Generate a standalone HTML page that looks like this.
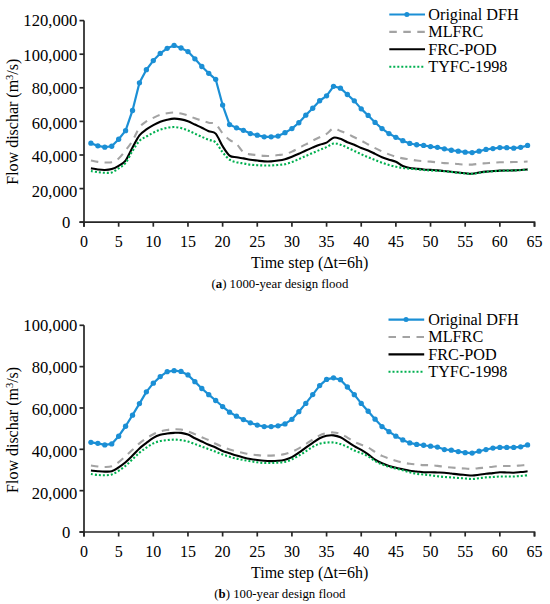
<!DOCTYPE html>
<html><head><meta charset="utf-8"><style>
html,body{margin:0;padding:0;background:#fff;width:550px;height:604px;overflow:hidden}
svg{display:block}
</style></head><body>
<svg width="550" height="604" viewBox="0 0 550 604">
<rect width="550" height="604" fill="#fff"/>
<path d="M90.93,143.16 L97.86,145.86 L104.79,147.15 L111.72,146.26 L118.65,139.26 L125.58,130.64 L132.52,110.48 L139.45,82.83 L146.38,69.72 L153.31,60.58 L160.24,53.41 L167.17,48.32 L174.10,45.41 L181.03,48.00 L187.96,51.61 L194.89,58.80 L201.82,66.51 L208.75,73.32 L215.68,79.32 L222.62,105.04 L229.55,124.56 L236.48,127.87 L243.41,130.35 L250.34,133.56 L257.27,135.16 L264.20,136.86 L271.13,136.86 L278.06,136.07 L284.99,132.71 L291.92,128.62 L298.85,122.76 L305.78,115.15 L312.72,108.25 L319.65,100.75 L326.58,95.85 L333.51,86.29 L340.44,88.14 L347.37,94.52 L354.30,100.85 L361.23,108.85 L368.16,115.45 L375.09,122.46 L382.02,128.56 L388.95,133.56 L395.88,137.36 L402.82,140.67 L409.75,143.46 L416.68,144.77 L423.61,145.42 L430.54,146.60 L437.47,147.37 L444.40,148.87 L451.33,150.26 L458.26,151.17 L465.19,152.16 L472.12,152.56 L479.05,151.17 L485.98,149.46 L492.92,148.57 L499.85,147.61 L506.78,147.68 L513.71,148.16 L520.64,147.37 L527.57,145.47" fill="none" stroke="#1b8fd5" stroke-width="2.2" stroke-linejoin="round"/>
<circle cx="90.93" cy="143.16" r="2.65" fill="#1b8fd5"/>
<circle cx="97.86" cy="145.86" r="2.65" fill="#1b8fd5"/>
<circle cx="104.79" cy="147.15" r="2.65" fill="#1b8fd5"/>
<circle cx="111.72" cy="146.26" r="2.65" fill="#1b8fd5"/>
<circle cx="118.65" cy="139.26" r="2.65" fill="#1b8fd5"/>
<circle cx="125.58" cy="130.64" r="2.65" fill="#1b8fd5"/>
<circle cx="132.52" cy="110.48" r="2.65" fill="#1b8fd5"/>
<circle cx="139.45" cy="82.83" r="2.65" fill="#1b8fd5"/>
<circle cx="146.38" cy="69.72" r="2.65" fill="#1b8fd5"/>
<circle cx="153.31" cy="60.58" r="2.65" fill="#1b8fd5"/>
<circle cx="160.24" cy="53.41" r="2.65" fill="#1b8fd5"/>
<circle cx="167.17" cy="48.32" r="2.65" fill="#1b8fd5"/>
<circle cx="174.10" cy="45.41" r="2.65" fill="#1b8fd5"/>
<circle cx="181.03" cy="48.00" r="2.65" fill="#1b8fd5"/>
<circle cx="187.96" cy="51.61" r="2.65" fill="#1b8fd5"/>
<circle cx="194.89" cy="58.80" r="2.65" fill="#1b8fd5"/>
<circle cx="201.82" cy="66.51" r="2.65" fill="#1b8fd5"/>
<circle cx="208.75" cy="73.32" r="2.65" fill="#1b8fd5"/>
<circle cx="215.68" cy="79.32" r="2.65" fill="#1b8fd5"/>
<circle cx="222.62" cy="105.04" r="2.65" fill="#1b8fd5"/>
<circle cx="229.55" cy="124.56" r="2.65" fill="#1b8fd5"/>
<circle cx="236.48" cy="127.87" r="2.65" fill="#1b8fd5"/>
<circle cx="243.41" cy="130.35" r="2.65" fill="#1b8fd5"/>
<circle cx="250.34" cy="133.56" r="2.65" fill="#1b8fd5"/>
<circle cx="257.27" cy="135.16" r="2.65" fill="#1b8fd5"/>
<circle cx="264.20" cy="136.86" r="2.65" fill="#1b8fd5"/>
<circle cx="271.13" cy="136.86" r="2.65" fill="#1b8fd5"/>
<circle cx="278.06" cy="136.07" r="2.65" fill="#1b8fd5"/>
<circle cx="284.99" cy="132.71" r="2.65" fill="#1b8fd5"/>
<circle cx="291.92" cy="128.62" r="2.65" fill="#1b8fd5"/>
<circle cx="298.85" cy="122.76" r="2.65" fill="#1b8fd5"/>
<circle cx="305.78" cy="115.15" r="2.65" fill="#1b8fd5"/>
<circle cx="312.72" cy="108.25" r="2.65" fill="#1b8fd5"/>
<circle cx="319.65" cy="100.75" r="2.65" fill="#1b8fd5"/>
<circle cx="326.58" cy="95.85" r="2.65" fill="#1b8fd5"/>
<circle cx="333.51" cy="86.29" r="2.65" fill="#1b8fd5"/>
<circle cx="340.44" cy="88.14" r="2.65" fill="#1b8fd5"/>
<circle cx="347.37" cy="94.52" r="2.65" fill="#1b8fd5"/>
<circle cx="354.30" cy="100.85" r="2.65" fill="#1b8fd5"/>
<circle cx="361.23" cy="108.85" r="2.65" fill="#1b8fd5"/>
<circle cx="368.16" cy="115.45" r="2.65" fill="#1b8fd5"/>
<circle cx="375.09" cy="122.46" r="2.65" fill="#1b8fd5"/>
<circle cx="382.02" cy="128.56" r="2.65" fill="#1b8fd5"/>
<circle cx="388.95" cy="133.56" r="2.65" fill="#1b8fd5"/>
<circle cx="395.88" cy="137.36" r="2.65" fill="#1b8fd5"/>
<circle cx="402.82" cy="140.67" r="2.65" fill="#1b8fd5"/>
<circle cx="409.75" cy="143.46" r="2.65" fill="#1b8fd5"/>
<circle cx="416.68" cy="144.77" r="2.65" fill="#1b8fd5"/>
<circle cx="423.61" cy="145.42" r="2.65" fill="#1b8fd5"/>
<circle cx="430.54" cy="146.60" r="2.65" fill="#1b8fd5"/>
<circle cx="437.47" cy="147.37" r="2.65" fill="#1b8fd5"/>
<circle cx="444.40" cy="148.87" r="2.65" fill="#1b8fd5"/>
<circle cx="451.33" cy="150.26" r="2.65" fill="#1b8fd5"/>
<circle cx="458.26" cy="151.17" r="2.65" fill="#1b8fd5"/>
<circle cx="465.19" cy="152.16" r="2.65" fill="#1b8fd5"/>
<circle cx="472.12" cy="152.56" r="2.65" fill="#1b8fd5"/>
<circle cx="479.05" cy="151.17" r="2.65" fill="#1b8fd5"/>
<circle cx="485.98" cy="149.46" r="2.65" fill="#1b8fd5"/>
<circle cx="492.92" cy="148.57" r="2.65" fill="#1b8fd5"/>
<circle cx="499.85" cy="147.61" r="2.65" fill="#1b8fd5"/>
<circle cx="506.78" cy="147.68" r="2.65" fill="#1b8fd5"/>
<circle cx="513.71" cy="148.16" r="2.65" fill="#1b8fd5"/>
<circle cx="520.64" cy="147.37" r="2.65" fill="#1b8fd5"/>
<circle cx="527.57" cy="145.47" r="2.65" fill="#1b8fd5"/>
<path d="M90.93,160.46 C92.09,160.70 95.55,161.55 97.86,161.89 C100.17,162.22 102.48,162.43 104.79,162.48 C107.10,162.52 109.41,162.84 111.72,162.17 C114.03,161.51 116.34,160.43 118.65,158.48 C120.96,156.53 123.27,153.42 125.58,150.46 C127.89,147.50 130.21,144.56 132.52,140.72 C134.83,136.88 137.14,130.67 139.45,127.45 C141.76,124.23 144.07,123.00 146.38,121.40 C148.69,119.80 151.00,118.96 153.31,117.87 C155.62,116.78 157.93,115.62 160.24,114.85 C162.55,114.08 164.86,113.64 167.17,113.25 C169.48,112.87 171.79,112.50 174.10,112.55 C176.41,112.60 178.72,113.07 181.03,113.55 C183.34,114.04 185.65,114.65 187.96,115.45 C190.27,116.25 192.58,117.51 194.89,118.36 C197.20,119.21 199.51,119.84 201.82,120.56 C204.13,121.28 206.44,122.06 208.75,122.66 C211.06,123.26 213.37,122.38 215.68,124.16 C217.99,125.93 220.31,130.71 222.62,133.33 C224.93,135.95 227.24,138.09 229.55,139.86 C231.86,141.64 234.17,141.90 236.48,143.96 C238.79,146.03 241.10,150.53 243.41,152.26 C245.72,153.99 248.03,153.89 250.34,154.36 C252.65,154.83 254.96,154.82 257.27,155.07 C259.58,155.32 261.89,155.74 264.20,155.87 C266.51,156.01 268.82,156.01 271.13,155.87 C273.44,155.74 275.75,155.37 278.06,155.07 C280.37,154.77 282.68,154.65 284.99,154.08 C287.30,153.50 289.61,152.66 291.92,151.64 C294.23,150.62 296.54,149.17 298.85,147.96 C301.16,146.75 303.47,145.60 305.78,144.37 C308.09,143.13 310.41,141.75 312.72,140.57 C315.03,139.38 317.34,138.38 319.65,137.26 C321.96,136.14 324.27,135.33 326.58,133.87 C328.89,132.40 331.20,128.92 333.51,128.46 C335.82,127.99 338.13,130.16 340.44,131.06 C342.75,131.96 345.06,132.82 347.37,133.87 C349.68,134.91 351.99,136.18 354.30,137.31 C356.61,138.44 358.92,139.43 361.23,140.62 C363.54,141.81 365.85,143.21 368.16,144.47 C370.47,145.72 372.78,146.99 375.09,148.16 C377.40,149.33 379.71,150.44 382.02,151.47 C384.33,152.51 386.64,153.48 388.95,154.36 C391.26,155.24 393.57,156.09 395.88,156.76 C398.19,157.43 400.51,157.94 402.82,158.38 C405.13,158.81 407.44,159.00 409.75,159.37 C412.06,159.73 414.37,160.27 416.68,160.58 C418.99,160.89 421.30,161.03 423.61,161.22 C425.92,161.40 428.23,161.48 430.54,161.67 C432.85,161.86 435.16,162.14 437.47,162.38 C439.78,162.61 442.09,162.90 444.40,163.08 C446.71,163.26 449.02,163.30 451.33,163.47 C453.64,163.63 455.95,163.89 458.26,164.07 C460.57,164.26 462.88,164.49 465.19,164.58 C467.50,164.66 469.81,164.71 472.12,164.58 C474.43,164.44 476.74,163.99 479.05,163.77 C481.36,163.55 483.67,163.41 485.98,163.23 C488.29,163.05 490.61,162.84 492.92,162.68 C495.23,162.52 497.54,162.35 499.85,162.27 C502.16,162.20 504.47,162.26 506.78,162.22 C509.09,162.19 511.40,162.13 513.71,162.07 C516.02,162.02 518.33,161.97 520.64,161.89 C522.95,161.80 526.41,161.62 527.57,161.57" fill="none" stroke="#a3a3a3" stroke-width="2.1" stroke-dasharray="7.5 6.3"/>
<path d="M90.93,168.37 C92.09,168.56 95.55,169.22 97.86,169.48 C100.17,169.75 102.48,170.04 104.79,169.97 C107.10,169.90 109.41,169.78 111.72,169.08 C114.03,168.38 116.34,167.19 118.65,165.77 C120.96,164.35 123.27,163.60 125.58,160.54 C127.89,157.49 130.21,151.64 132.52,147.44 C134.83,143.24 137.14,138.34 139.45,135.34 C141.76,132.35 144.07,131.17 146.38,129.46 C148.69,127.76 151.00,126.38 153.31,125.10 C155.62,123.81 157.93,122.63 160.24,121.74 C162.55,120.85 164.86,120.27 167.17,119.75 C169.48,119.24 171.79,118.71 174.10,118.64 C176.41,118.58 178.72,118.92 181.03,119.35 C183.34,119.78 185.65,120.38 187.96,121.25 C190.27,122.12 192.58,123.47 194.89,124.56 C197.20,125.64 199.51,126.67 201.82,127.77 C204.13,128.87 206.44,130.18 208.75,131.16 C211.06,132.14 213.37,131.16 215.68,133.66 C217.99,136.17 220.31,142.53 222.62,146.18 C224.93,149.83 227.24,153.72 229.55,155.57 C231.86,157.42 234.17,156.80 236.48,157.27 C238.79,157.74 241.10,157.98 243.41,158.38 C245.72,158.78 248.03,159.30 250.34,159.67 C252.65,160.04 254.96,160.29 257.27,160.58 C259.58,160.86 261.89,161.24 264.20,161.37 C266.51,161.50 268.82,161.50 271.13,161.37 C273.44,161.24 275.75,160.94 278.06,160.58 C280.37,160.22 282.68,159.86 284.99,159.22 C287.30,158.58 289.61,157.64 291.92,156.73 C294.23,155.82 296.54,154.82 298.85,153.77 C301.16,152.73 303.47,151.51 305.78,150.46 C308.09,149.41 310.41,148.44 312.72,147.47 C315.03,146.51 317.34,145.47 319.65,144.67 C321.96,143.87 324.27,143.84 326.58,142.67 C328.89,141.50 331.20,138.30 333.51,137.66 C335.82,137.03 338.13,138.12 340.44,138.87 C342.75,139.62 345.06,141.18 347.37,142.16 C349.68,143.14 351.99,143.77 354.30,144.75 C356.61,145.73 358.92,147.06 361.23,148.03 C363.54,149.00 365.85,149.59 368.16,150.56 C370.47,151.54 372.78,152.76 375.09,153.87 C377.40,154.99 379.71,156.30 382.02,157.27 C384.33,158.23 386.64,158.94 388.95,159.67 C391.26,160.40 393.57,160.62 395.88,161.67 C398.19,162.72 400.51,164.92 402.82,165.97 C405.13,167.02 407.44,167.50 409.75,167.97 C412.06,168.44 414.37,168.52 416.68,168.78 C418.99,169.03 421.30,169.29 423.61,169.48 C425.92,169.67 428.23,169.77 430.54,169.92 C432.85,170.07 435.16,170.18 437.47,170.37 C439.78,170.57 442.09,170.84 444.40,171.08 C446.71,171.31 449.02,171.53 451.33,171.78 C453.64,172.03 455.95,172.32 458.26,172.57 C460.57,172.82 462.88,173.09 465.19,173.28 C467.50,173.46 469.81,173.80 472.12,173.68 C474.43,173.56 476.74,172.91 479.05,172.57 C481.36,172.23 483.67,171.88 485.98,171.63 C488.29,171.38 490.61,171.25 492.92,171.08 C495.23,170.91 497.54,170.73 499.85,170.62 C502.16,170.52 504.47,170.50 506.78,170.46 C509.09,170.41 511.40,170.46 513.71,170.37 C516.02,170.29 518.33,170.12 520.64,169.95 C522.95,169.79 526.41,169.48 527.57,169.38" fill="none" stroke="#000000" stroke-width="2.1" stroke-linejoin="round"/>
<path d="M90.93,171.08 C92.09,171.25 95.55,171.85 97.86,172.14 C100.17,172.42 102.48,172.72 104.79,172.77 C107.10,172.83 109.41,173.21 111.72,172.47 C114.03,171.74 116.34,169.97 118.65,168.37 C120.96,166.78 123.27,165.80 125.58,162.90 C127.89,160.00 130.21,154.64 132.52,150.97 C134.83,147.30 137.14,143.30 139.45,140.89 C141.76,138.48 144.07,137.89 146.38,136.52 C148.69,135.15 151.00,133.80 153.31,132.66 C155.62,131.51 157.93,130.45 160.24,129.63 C162.55,128.82 164.86,128.20 167.17,127.77 C169.48,127.34 171.79,127.01 174.10,127.06 C176.41,127.11 178.72,127.50 181.03,128.07 C183.34,128.64 185.65,129.54 187.96,130.47 C190.27,131.40 192.58,132.60 194.89,133.66 C197.20,134.73 199.51,135.84 201.82,136.86 C204.13,137.87 206.44,138.84 208.75,139.76 C211.06,140.68 213.37,140.27 215.68,142.37 C217.99,144.46 220.31,149.43 222.62,152.31 C224.93,155.20 227.24,158.03 229.55,159.67 C231.86,161.31 234.17,161.54 236.48,162.17 C238.79,162.81 241.10,163.05 243.41,163.47 C245.72,163.88 248.03,164.39 250.34,164.68 C252.65,164.96 254.96,165.05 257.27,165.18 C259.58,165.31 261.89,165.42 264.20,165.47 C266.51,165.51 268.82,165.55 271.13,165.47 C273.44,165.39 275.75,165.18 278.06,164.98 C280.37,164.77 282.68,164.72 284.99,164.24 C287.30,163.76 289.61,162.99 291.92,162.12 C294.23,161.26 296.54,160.09 298.85,159.07 C301.16,158.04 303.47,156.99 305.78,155.97 C308.09,154.96 310.41,153.97 312.72,152.97 C315.03,151.96 317.34,150.93 319.65,149.96 C321.96,148.99 324.27,148.25 326.58,147.17 C328.89,146.09 331.20,143.88 333.51,143.46 C335.82,143.04 338.13,143.97 340.44,144.67 C342.75,145.37 345.06,146.63 347.37,147.68 C349.68,148.72 351.99,149.83 354.30,150.92 C356.61,152.01 358.92,153.17 361.23,154.23 C363.54,155.29 365.85,156.29 368.16,157.27 C370.47,158.24 372.78,159.17 375.09,160.07 C377.40,160.98 379.71,161.86 382.02,162.68 C384.33,163.50 386.64,164.31 388.95,164.98 C391.26,165.65 393.57,166.18 395.88,166.68 C398.19,167.17 400.51,167.62 402.82,167.97 C405.13,168.32 407.44,168.56 409.75,168.78 C412.06,168.99 414.37,169.08 416.68,169.28 C418.99,169.48 421.30,169.77 423.61,169.97 C425.92,170.17 428.23,170.34 430.54,170.47 C432.85,170.61 435.16,170.65 437.47,170.79 C439.78,170.93 442.09,171.10 444.40,171.30 C446.71,171.49 449.02,171.72 451.33,171.97 C453.64,172.22 455.95,172.56 458.26,172.81 C460.57,173.06 462.88,173.31 465.19,173.48 C467.50,173.65 469.81,173.93 472.12,173.82 C474.43,173.70 476.74,173.14 479.05,172.81 C481.36,172.47 483.67,172.05 485.98,171.80 C488.29,171.55 490.61,171.46 492.92,171.30 C495.23,171.13 497.54,170.90 499.85,170.79 C502.16,170.68 504.47,170.68 506.78,170.62 C509.09,170.57 511.40,170.54 513.71,170.46 C516.02,170.37 518.33,170.26 520.64,170.12 C522.95,169.98 526.41,169.70 527.57,169.62" fill="none" stroke="#00b050" stroke-width="2.1" stroke-dasharray="2 2"/>
<path d="M84.0,20.6 L84.0,226.7 M79.5,222.2 L534.5,222.2 L534.5,226.7" fill="none" stroke="#262626" stroke-width="1.7"/>
<path d="M79.5,222.20 L84.0,222.20" stroke="#262626" stroke-width="1.7"/>
<text x="70.4" y="228.40" text-anchor="end" style="font-family:'Liberation Serif',serif;font-size:16.6px" fill="#000">0</text>
<path d="M79.5,188.60 L84.0,188.60" stroke="#262626" stroke-width="1.7"/>
<text x="77.3" y="196.70" text-anchor="end" style="font-family:'Liberation Serif',serif;font-size:16.6px" fill="#000">20,000</text>
<path d="M79.5,155.00 L84.0,155.00" stroke="#262626" stroke-width="1.7"/>
<text x="77.3" y="162.40" text-anchor="end" style="font-family:'Liberation Serif',serif;font-size:16.6px" fill="#000">40,000</text>
<path d="M79.5,121.40 L84.0,121.40" stroke="#262626" stroke-width="1.7"/>
<text x="77.3" y="128.60" text-anchor="end" style="font-family:'Liberation Serif',serif;font-size:16.6px" fill="#000">60,000</text>
<path d="M79.5,87.80 L84.0,87.80" stroke="#262626" stroke-width="1.7"/>
<text x="77.3" y="94.30" text-anchor="end" style="font-family:'Liberation Serif',serif;font-size:16.6px" fill="#000">80,000</text>
<path d="M79.5,54.20 L84.0,54.20" stroke="#262626" stroke-width="1.7"/>
<text x="77.3" y="60.60" text-anchor="end" style="font-family:'Liberation Serif',serif;font-size:16.6px" fill="#000">100,000</text>
<path d="M79.5,20.60 L84.0,20.60" stroke="#262626" stroke-width="1.7"/>
<text x="77.3" y="25.70" text-anchor="end" style="font-family:'Liberation Serif',serif;font-size:16.6px" fill="#000">120,000</text>
<path d="M84.00,222.2 L84.00,226.7" stroke="#262626" stroke-width="1.7"/>
<text x="84.00" y="247.20" text-anchor="middle" style="font-family:'Liberation Serif',serif;font-size:16px" fill="#000">0</text>
<path d="M118.65,222.2 L118.65,226.7" stroke="#262626" stroke-width="1.7"/>
<text x="118.65" y="247.20" text-anchor="middle" style="font-family:'Liberation Serif',serif;font-size:16px" fill="#000">5</text>
<path d="M153.31,222.2 L153.31,226.7" stroke="#262626" stroke-width="1.7"/>
<text x="153.31" y="247.20" text-anchor="middle" style="font-family:'Liberation Serif',serif;font-size:16px" fill="#000">10</text>
<path d="M187.96,222.2 L187.96,226.7" stroke="#262626" stroke-width="1.7"/>
<text x="187.96" y="247.20" text-anchor="middle" style="font-family:'Liberation Serif',serif;font-size:16px" fill="#000">15</text>
<path d="M222.62,222.2 L222.62,226.7" stroke="#262626" stroke-width="1.7"/>
<text x="222.62" y="247.20" text-anchor="middle" style="font-family:'Liberation Serif',serif;font-size:16px" fill="#000">20</text>
<path d="M257.27,222.2 L257.27,226.7" stroke="#262626" stroke-width="1.7"/>
<text x="257.27" y="247.20" text-anchor="middle" style="font-family:'Liberation Serif',serif;font-size:16px" fill="#000">25</text>
<path d="M291.92,222.2 L291.92,226.7" stroke="#262626" stroke-width="1.7"/>
<text x="291.92" y="247.20" text-anchor="middle" style="font-family:'Liberation Serif',serif;font-size:16px" fill="#000">30</text>
<path d="M326.58,222.2 L326.58,226.7" stroke="#262626" stroke-width="1.7"/>
<text x="326.58" y="247.20" text-anchor="middle" style="font-family:'Liberation Serif',serif;font-size:16px" fill="#000">35</text>
<path d="M361.23,222.2 L361.23,226.7" stroke="#262626" stroke-width="1.7"/>
<text x="361.23" y="247.20" text-anchor="middle" style="font-family:'Liberation Serif',serif;font-size:16px" fill="#000">40</text>
<path d="M395.88,222.2 L395.88,226.7" stroke="#262626" stroke-width="1.7"/>
<text x="395.88" y="247.20" text-anchor="middle" style="font-family:'Liberation Serif',serif;font-size:16px" fill="#000">45</text>
<path d="M430.54,222.2 L430.54,226.7" stroke="#262626" stroke-width="1.7"/>
<text x="430.54" y="247.20" text-anchor="middle" style="font-family:'Liberation Serif',serif;font-size:16px" fill="#000">50</text>
<path d="M465.19,222.2 L465.19,226.7" stroke="#262626" stroke-width="1.7"/>
<text x="465.19" y="247.20" text-anchor="middle" style="font-family:'Liberation Serif',serif;font-size:16px" fill="#000">55</text>
<path d="M499.85,222.2 L499.85,226.7" stroke="#262626" stroke-width="1.7"/>
<text x="499.85" y="247.20" text-anchor="middle" style="font-family:'Liberation Serif',serif;font-size:16px" fill="#000">60</text>
<path d="M534.50,222.2 L534.50,226.7" stroke="#262626" stroke-width="1.7"/>
<text x="534.50" y="247.20" text-anchor="middle" style="font-family:'Liberation Serif',serif;font-size:16px" fill="#000">65</text>
<text x="309.7" y="267.80" text-anchor="middle" style="font-family:'Liberation Serif',serif;font-size:16px" fill="#000">Time step (&#916;t=6h)</text>
<text transform="translate(17.8,121.70) rotate(-90)" x="0" y="0" text-anchor="middle" style="font-family:'Liberation Serif',serif;font-size:16px" fill="#000">Flow dischar (m<tspan baseline-shift="super" style="font-size:10.5px">3</tspan>/s)</text>
<text x="279.9" y="287.50" text-anchor="middle" style="font-family:'Liberation Serif',serif;font-size:12.8px" fill="#000">(<tspan font-weight="bold">a</tspan>) 1000-year design flood</text>
<path d="M389.3,14.50 L425.0,14.50" stroke="#1b8fd5" stroke-width="2.2"/>
<circle cx="406.85" cy="14.50" r="2.5" fill="#1b8fd5"/>
<text x="428.3" y="19.70" style="font-family:'Liberation Serif',serif;font-size:16.2px" fill="#000">Original DFH</text>
<path d="M389.3,31.90 L425.0,31.90" stroke="#a3a3a3" stroke-width="2.1" stroke-dasharray="7.5 6.5"/>
<text x="428.3" y="37.10" style="font-family:'Liberation Serif',serif;font-size:16.2px" fill="#000">MLFRC</text>
<path d="M389.3,49.30 L425.0,49.30" stroke="#000000" stroke-width="2.1"/>
<text x="428.3" y="54.50" style="font-family:'Liberation Serif',serif;font-size:16.2px" fill="#000">FRC-POD</text>
<path d="M389.3,66.70 L425.0,66.70" stroke="#00b050" stroke-width="2.1" stroke-dasharray="2 2"/>
<text x="428.3" y="71.90" style="font-family:'Liberation Serif',serif;font-size:16.2px" fill="#000">TYFC-1998</text>
<path d="M90.93,442.33 L97.86,443.33 L104.79,444.92 L111.72,443.93 L118.65,436.24 L125.58,426.25 L132.52,415.17 L139.45,403.58 L146.38,391.86 L153.31,383.18 L160.24,376.62 L167.17,371.72 L174.10,370.63 L181.03,371.44 L187.96,374.93 L194.89,381.63 L201.82,388.51 L208.75,394.69 L215.68,400.50 L222.62,406.53 L229.55,412.18 L236.48,416.17 L243.41,419.56 L250.34,422.86 L257.27,425.05 L264.20,426.54 L271.13,426.54 L278.06,425.86 L284.99,423.90 L291.92,419.35 L298.85,411.68 L305.78,403.39 L312.72,394.61 L319.65,385.62 L326.58,379.41 L333.51,377.82 L340.44,379.72 L347.37,387.00 L354.30,394.69 L361.23,403.43 L368.16,411.27 L375.09,419.16 L382.02,426.54 L388.95,431.65 L395.88,436.13 L402.82,439.94 L409.75,442.93 L416.68,444.42 L423.61,445.23 L430.54,446.22 L437.47,447.03 L444.40,449.53 L451.33,450.21 L458.26,451.61 L465.19,452.71 L472.12,453.12 L479.05,451.22 L485.98,449.53 L492.92,448.12 L499.85,447.42 L506.78,447.42 L513.71,447.42 L520.64,446.82 L527.57,444.92" fill="none" stroke="#1b8fd5" stroke-width="2.2" stroke-linejoin="round"/>
<circle cx="90.93" cy="442.33" r="2.65" fill="#1b8fd5"/>
<circle cx="97.86" cy="443.33" r="2.65" fill="#1b8fd5"/>
<circle cx="104.79" cy="444.92" r="2.65" fill="#1b8fd5"/>
<circle cx="111.72" cy="443.93" r="2.65" fill="#1b8fd5"/>
<circle cx="118.65" cy="436.24" r="2.65" fill="#1b8fd5"/>
<circle cx="125.58" cy="426.25" r="2.65" fill="#1b8fd5"/>
<circle cx="132.52" cy="415.17" r="2.65" fill="#1b8fd5"/>
<circle cx="139.45" cy="403.58" r="2.65" fill="#1b8fd5"/>
<circle cx="146.38" cy="391.86" r="2.65" fill="#1b8fd5"/>
<circle cx="153.31" cy="383.18" r="2.65" fill="#1b8fd5"/>
<circle cx="160.24" cy="376.62" r="2.65" fill="#1b8fd5"/>
<circle cx="167.17" cy="371.72" r="2.65" fill="#1b8fd5"/>
<circle cx="174.10" cy="370.63" r="2.65" fill="#1b8fd5"/>
<circle cx="181.03" cy="371.44" r="2.65" fill="#1b8fd5"/>
<circle cx="187.96" cy="374.93" r="2.65" fill="#1b8fd5"/>
<circle cx="194.89" cy="381.63" r="2.65" fill="#1b8fd5"/>
<circle cx="201.82" cy="388.51" r="2.65" fill="#1b8fd5"/>
<circle cx="208.75" cy="394.69" r="2.65" fill="#1b8fd5"/>
<circle cx="215.68" cy="400.50" r="2.65" fill="#1b8fd5"/>
<circle cx="222.62" cy="406.53" r="2.65" fill="#1b8fd5"/>
<circle cx="229.55" cy="412.18" r="2.65" fill="#1b8fd5"/>
<circle cx="236.48" cy="416.17" r="2.65" fill="#1b8fd5"/>
<circle cx="243.41" cy="419.56" r="2.65" fill="#1b8fd5"/>
<circle cx="250.34" cy="422.86" r="2.65" fill="#1b8fd5"/>
<circle cx="257.27" cy="425.05" r="2.65" fill="#1b8fd5"/>
<circle cx="264.20" cy="426.54" r="2.65" fill="#1b8fd5"/>
<circle cx="271.13" cy="426.54" r="2.65" fill="#1b8fd5"/>
<circle cx="278.06" cy="425.86" r="2.65" fill="#1b8fd5"/>
<circle cx="284.99" cy="423.90" r="2.65" fill="#1b8fd5"/>
<circle cx="291.92" cy="419.35" r="2.65" fill="#1b8fd5"/>
<circle cx="298.85" cy="411.68" r="2.65" fill="#1b8fd5"/>
<circle cx="305.78" cy="403.39" r="2.65" fill="#1b8fd5"/>
<circle cx="312.72" cy="394.61" r="2.65" fill="#1b8fd5"/>
<circle cx="319.65" cy="385.62" r="2.65" fill="#1b8fd5"/>
<circle cx="326.58" cy="379.41" r="2.65" fill="#1b8fd5"/>
<circle cx="333.51" cy="377.82" r="2.65" fill="#1b8fd5"/>
<circle cx="340.44" cy="379.72" r="2.65" fill="#1b8fd5"/>
<circle cx="347.37" cy="387.00" r="2.65" fill="#1b8fd5"/>
<circle cx="354.30" cy="394.69" r="2.65" fill="#1b8fd5"/>
<circle cx="361.23" cy="403.43" r="2.65" fill="#1b8fd5"/>
<circle cx="368.16" cy="411.27" r="2.65" fill="#1b8fd5"/>
<circle cx="375.09" cy="419.16" r="2.65" fill="#1b8fd5"/>
<circle cx="382.02" cy="426.54" r="2.65" fill="#1b8fd5"/>
<circle cx="388.95" cy="431.65" r="2.65" fill="#1b8fd5"/>
<circle cx="395.88" cy="436.13" r="2.65" fill="#1b8fd5"/>
<circle cx="402.82" cy="439.94" r="2.65" fill="#1b8fd5"/>
<circle cx="409.75" cy="442.93" r="2.65" fill="#1b8fd5"/>
<circle cx="416.68" cy="444.42" r="2.65" fill="#1b8fd5"/>
<circle cx="423.61" cy="445.23" r="2.65" fill="#1b8fd5"/>
<circle cx="430.54" cy="446.22" r="2.65" fill="#1b8fd5"/>
<circle cx="437.47" cy="447.03" r="2.65" fill="#1b8fd5"/>
<circle cx="444.40" cy="449.53" r="2.65" fill="#1b8fd5"/>
<circle cx="451.33" cy="450.21" r="2.65" fill="#1b8fd5"/>
<circle cx="458.26" cy="451.61" r="2.65" fill="#1b8fd5"/>
<circle cx="465.19" cy="452.71" r="2.65" fill="#1b8fd5"/>
<circle cx="472.12" cy="453.12" r="2.65" fill="#1b8fd5"/>
<circle cx="479.05" cy="451.22" r="2.65" fill="#1b8fd5"/>
<circle cx="485.98" cy="449.53" r="2.65" fill="#1b8fd5"/>
<circle cx="492.92" cy="448.12" r="2.65" fill="#1b8fd5"/>
<circle cx="499.85" cy="447.42" r="2.65" fill="#1b8fd5"/>
<circle cx="506.78" cy="447.42" r="2.65" fill="#1b8fd5"/>
<circle cx="513.71" cy="447.42" r="2.65" fill="#1b8fd5"/>
<circle cx="520.64" cy="446.82" r="2.65" fill="#1b8fd5"/>
<circle cx="527.57" cy="444.92" r="2.65" fill="#1b8fd5"/>
<path d="M90.93,465.50 C92.09,465.67 95.55,466.25 97.86,466.50 C100.17,466.74 102.48,467.03 104.79,466.99 C107.10,466.96 109.41,467.09 111.72,466.29 C114.03,465.49 116.34,463.90 118.65,462.20 C120.96,460.50 123.27,458.16 125.58,456.10 C127.89,454.04 130.21,451.95 132.52,449.82 C134.83,447.69 137.14,445.23 139.45,443.33 C141.76,441.42 144.07,439.88 146.38,438.36 C148.69,436.85 151.00,435.40 153.31,434.23 C155.62,433.06 157.93,432.05 160.24,431.34 C162.55,430.62 164.86,430.30 167.17,429.95 C169.48,429.60 171.79,429.32 174.10,429.25 C176.41,429.18 178.72,429.19 181.03,429.54 C183.34,429.89 185.65,430.57 187.96,431.34 C190.27,432.11 192.58,433.17 194.89,434.15 C197.20,435.13 199.51,436.23 201.82,437.23 C204.13,438.22 206.44,439.04 208.75,440.12 C211.06,441.21 213.37,442.62 215.68,443.74 C217.99,444.86 220.31,445.86 222.62,446.84 C224.93,447.82 227.24,448.85 229.55,449.61 C231.86,450.37 234.17,450.86 236.48,451.41 C238.79,451.96 241.10,452.42 243.41,452.92 C245.72,453.42 248.03,454.04 250.34,454.40 C252.65,454.77 254.96,454.91 257.27,455.11 C259.58,455.31 261.89,455.52 264.20,455.60 C266.51,455.69 268.82,455.69 271.13,455.60 C273.44,455.52 275.75,455.36 278.06,455.11 C280.37,454.85 282.68,454.63 284.99,454.07 C287.30,453.52 289.61,452.74 291.92,451.80 C294.23,450.86 296.54,449.71 298.85,448.41 C301.16,447.12 303.47,445.49 305.78,444.03 C308.09,442.56 310.41,441.07 312.72,439.63 C315.03,438.18 317.34,436.43 319.65,435.35 C321.96,434.27 324.27,433.62 326.58,433.14 C328.89,432.65 331.20,432.32 333.51,432.43 C335.82,432.55 338.13,432.99 340.44,433.84 C342.75,434.69 345.06,436.20 347.37,437.54 C349.68,438.87 351.99,440.63 354.30,441.84 C356.61,443.04 358.92,443.84 361.23,444.77 C363.54,445.70 365.85,446.23 368.16,447.42 C370.47,448.61 372.78,450.51 375.09,451.92 C377.40,453.34 379.71,454.83 382.02,455.91 C384.33,457.00 386.64,457.60 388.95,458.41 C391.26,459.23 393.57,460.11 395.88,460.81 C398.19,461.51 400.51,462.11 402.82,462.61 C405.13,463.11 407.44,463.48 409.75,463.79 C412.06,464.10 414.37,464.27 416.68,464.49 C418.99,464.71 421.30,464.97 423.61,465.09 C425.92,465.22 428.23,465.11 430.54,465.24 C432.85,465.36 435.16,465.60 437.47,465.86 C439.78,466.11 442.09,466.51 444.40,466.79 C446.71,467.06 449.02,467.29 451.33,467.51 C453.64,467.73 455.95,467.92 458.26,468.09 C460.57,468.26 462.88,468.41 465.19,468.54 C467.50,468.68 469.81,468.96 472.12,468.89 C474.43,468.83 476.74,468.36 479.05,468.13 C481.36,467.90 483.67,467.73 485.98,467.49 C488.29,467.25 490.61,466.93 492.92,466.68 C495.23,466.43 497.54,466.11 499.85,466.00 C502.16,465.89 504.47,466.00 506.78,466.00 C509.09,466.00 511.40,466.09 513.71,466.00 C516.02,465.91 518.33,465.63 520.64,465.44 C522.95,465.26 526.41,464.99 527.57,464.91" fill="none" stroke="#a3a3a3" stroke-width="2.1" stroke-dasharray="7.5 6.3"/>
<path d="M90.93,470.49 C92.09,470.60 95.55,471.01 97.86,471.19 C100.17,471.37 102.48,471.58 104.79,471.58 C107.10,471.58 109.41,471.90 111.72,471.19 C114.03,470.48 116.34,468.80 118.65,467.30 C120.96,465.80 123.27,464.15 125.58,462.20 C127.89,460.25 130.21,457.90 132.52,455.60 C134.83,453.31 137.14,450.53 139.45,448.41 C141.76,446.30 144.07,444.66 146.38,442.91 C148.69,441.17 151.00,439.30 153.31,437.95 C155.62,436.61 157.93,435.58 160.24,434.85 C162.55,434.12 164.86,433.88 167.17,433.55 C169.48,433.21 171.79,432.96 174.10,432.85 C176.41,432.73 178.72,432.56 181.03,432.85 C183.34,433.13 185.65,433.64 187.96,434.54 C190.27,435.44 192.58,437.08 194.89,438.24 C197.20,439.41 199.51,440.45 201.82,441.53 C204.13,442.61 206.44,443.74 208.75,444.73 C211.06,445.72 213.37,446.42 215.68,447.46 C217.99,448.50 220.31,450.00 222.62,450.97 C224.93,451.95 227.24,452.54 229.55,453.31 C231.86,454.08 234.17,454.92 236.48,455.60 C238.79,456.29 241.10,456.85 243.41,457.40 C245.72,457.95 248.03,458.48 250.34,458.91 C252.65,459.34 254.96,459.69 257.27,460.01 C259.58,460.32 261.89,460.63 264.20,460.81 C266.51,461.00 268.82,461.10 271.13,461.10 C273.44,461.10 275.75,461.05 278.06,460.81 C280.37,460.57 282.68,460.27 284.99,459.65 C287.30,459.04 289.61,458.27 291.92,457.11 C294.23,455.96 296.54,454.29 298.85,452.71 C301.16,451.13 303.47,449.27 305.78,447.63 C308.09,445.98 310.41,444.39 312.72,442.83 C315.03,441.27 317.34,439.42 319.65,438.24 C321.96,437.06 324.27,436.22 326.58,435.74 C328.89,435.26 331.20,435.10 333.51,435.35 C335.82,435.60 338.13,436.20 340.44,437.23 C342.75,438.26 345.06,440.03 347.37,441.53 C349.68,443.03 351.99,444.82 354.30,446.22 C356.61,447.62 358.92,448.58 361.23,449.94 C363.54,451.30 365.85,452.79 368.16,454.40 C370.47,456.02 372.78,458.13 375.09,459.61 C377.40,461.10 379.71,462.25 382.02,463.29 C384.33,464.34 386.64,465.15 388.95,465.90 C391.26,466.65 393.57,467.23 395.88,467.80 C398.19,468.36 400.51,468.79 402.82,469.29 C405.13,469.79 407.44,470.43 409.75,470.80 C412.06,471.16 414.37,471.23 416.68,471.48 C418.99,471.73 421.30,472.15 423.61,472.28 C425.92,472.42 428.23,472.23 430.54,472.26 C432.85,472.29 435.16,472.40 437.47,472.47 C439.78,472.54 442.09,472.50 444.40,472.68 C446.71,472.85 449.02,473.22 451.33,473.50 C453.64,473.79 455.95,474.15 458.26,474.39 C460.57,474.63 462.88,474.77 465.19,474.95 C467.50,475.13 469.81,475.52 472.12,475.49 C474.43,475.45 476.74,475.03 479.05,474.74 C481.36,474.46 483.67,474.07 485.98,473.79 C488.29,473.52 490.61,473.34 492.92,473.09 C495.23,472.84 497.54,472.39 499.85,472.28 C502.16,472.18 504.47,472.40 506.78,472.47 C509.09,472.54 511.40,472.75 513.71,472.68 C516.02,472.61 518.33,472.29 520.64,472.06 C522.95,471.83 526.41,471.42 527.57,471.29" fill="none" stroke="#000000" stroke-width="2.1" stroke-linejoin="round"/>
<path d="M90.93,474.08 C92.09,474.23 95.55,474.77 97.86,474.97 C100.17,475.17 102.48,475.36 104.79,475.28 C107.10,475.20 109.41,475.21 111.72,474.48 C114.03,473.74 116.34,472.33 118.65,470.88 C120.96,469.43 123.27,467.72 125.58,465.79 C127.89,463.86 130.21,461.48 132.52,459.30 C134.83,457.12 137.14,454.65 139.45,452.71 C141.76,450.77 144.07,449.23 146.38,447.67 C148.69,446.10 151.00,444.43 153.31,443.33 C155.62,442.22 157.93,441.59 160.24,441.05 C162.55,440.52 164.86,440.36 167.17,440.12 C169.48,439.88 171.79,439.63 174.10,439.63 C176.41,439.63 178.72,439.80 181.03,440.12 C183.34,440.44 185.65,440.88 187.96,441.53 C190.27,442.18 192.58,443.18 194.89,444.03 C197.20,444.88 199.51,445.76 201.82,446.61 C204.13,447.46 206.44,448.25 208.75,449.11 C211.06,449.98 213.37,450.90 215.68,451.80 C217.99,452.70 220.31,453.65 222.62,454.49 C224.93,455.32 227.24,456.12 229.55,456.80 C231.86,457.49 234.17,458.07 236.48,458.60 C238.79,459.13 241.10,459.57 243.41,460.01 C245.72,460.44 248.03,460.82 250.34,461.21 C252.65,461.59 254.96,462.00 257.27,462.30 C259.58,462.60 261.89,462.89 264.20,463.00 C266.51,463.12 268.82,463.07 271.13,463.00 C273.44,462.94 275.75,462.79 278.06,462.61 C280.37,462.43 282.68,462.48 284.99,461.93 C287.30,461.38 289.61,460.36 291.92,459.30 C294.23,458.25 296.54,456.93 298.85,455.60 C301.16,454.27 303.47,452.77 305.78,451.32 C308.09,449.88 310.41,448.19 312.72,446.92 C315.03,445.65 317.34,444.45 319.65,443.72 C321.96,442.98 324.27,442.72 326.58,442.52 C328.89,442.32 331.20,442.27 333.51,442.52 C335.82,442.77 338.13,443.29 340.44,444.03 C342.75,444.76 345.06,445.84 347.37,446.92 C349.68,448.00 351.99,449.50 354.30,450.52 C356.61,451.54 358.92,452.08 361.23,453.04 C363.54,454.01 365.85,454.96 368.16,456.31 C370.47,457.65 372.78,459.75 375.09,461.10 C377.40,462.45 379.71,463.44 382.02,464.39 C384.33,465.34 386.64,466.09 388.95,466.79 C391.26,467.49 393.57,468.00 395.88,468.58 C398.19,469.17 400.51,469.66 402.82,470.28 C405.13,470.90 407.44,471.70 409.75,472.28 C412.06,472.87 414.37,473.43 416.68,473.79 C418.99,474.16 421.30,474.23 423.61,474.48 C425.92,474.72 428.23,475.00 430.54,475.28 C432.85,475.57 435.16,475.91 437.47,476.19 C439.78,476.47 442.09,476.77 444.40,476.98 C446.71,477.18 449.02,477.27 451.33,477.43 C453.64,477.60 455.95,477.80 458.26,477.97 C460.57,478.14 462.88,478.28 465.19,478.46 C467.50,478.65 469.81,479.10 472.12,479.06 C474.43,479.03 476.74,478.54 479.05,478.26 C481.36,477.98 483.67,477.58 485.98,477.37 C488.29,477.16 490.61,477.17 492.92,477.02 C495.23,476.87 497.54,476.57 499.85,476.48 C502.16,476.39 504.47,476.48 506.78,476.48 C509.09,476.48 511.40,476.56 513.71,476.48 C516.02,476.40 518.33,476.18 520.64,475.98 C522.95,475.78 526.41,475.40 527.57,475.28" fill="none" stroke="#00b050" stroke-width="2.1" stroke-dasharray="2 2"/>
<path d="M84.0,325.3 L84.0,536.5 M79.5,532.0 L534.5,532.0 L534.5,536.5" fill="none" stroke="#262626" stroke-width="1.7"/>
<path d="M79.5,532.00 L84.0,532.00" stroke="#262626" stroke-width="1.7"/>
<text x="70.4" y="538.10" text-anchor="end" style="font-family:'Liberation Serif',serif;font-size:16.6px" fill="#000">0</text>
<path d="M79.5,490.66 L84.0,490.66" stroke="#262626" stroke-width="1.7"/>
<text x="77.3" y="499.00" text-anchor="end" style="font-family:'Liberation Serif',serif;font-size:16.6px" fill="#000">20,000</text>
<path d="M79.5,449.32 L84.0,449.32" stroke="#262626" stroke-width="1.7"/>
<text x="77.3" y="457.40" text-anchor="end" style="font-family:'Liberation Serif',serif;font-size:16.6px" fill="#000">40,000</text>
<path d="M79.5,407.98 L84.0,407.98" stroke="#262626" stroke-width="1.7"/>
<text x="77.3" y="414.70" text-anchor="end" style="font-family:'Liberation Serif',serif;font-size:16.6px" fill="#000">60,000</text>
<path d="M79.5,366.64 L84.0,366.64" stroke="#262626" stroke-width="1.7"/>
<text x="77.3" y="372.80" text-anchor="end" style="font-family:'Liberation Serif',serif;font-size:16.6px" fill="#000">80,000</text>
<path d="M79.5,325.30 L84.0,325.30" stroke="#262626" stroke-width="1.7"/>
<text x="77.3" y="331.40" text-anchor="end" style="font-family:'Liberation Serif',serif;font-size:16.6px" fill="#000">100,000</text>
<path d="M84.00,532.0 L84.00,536.5" stroke="#262626" stroke-width="1.7"/>
<text x="84.00" y="557.00" text-anchor="middle" style="font-family:'Liberation Serif',serif;font-size:16px" fill="#000">0</text>
<path d="M118.65,532.0 L118.65,536.5" stroke="#262626" stroke-width="1.7"/>
<text x="118.65" y="557.00" text-anchor="middle" style="font-family:'Liberation Serif',serif;font-size:16px" fill="#000">5</text>
<path d="M153.31,532.0 L153.31,536.5" stroke="#262626" stroke-width="1.7"/>
<text x="153.31" y="557.00" text-anchor="middle" style="font-family:'Liberation Serif',serif;font-size:16px" fill="#000">10</text>
<path d="M187.96,532.0 L187.96,536.5" stroke="#262626" stroke-width="1.7"/>
<text x="187.96" y="557.00" text-anchor="middle" style="font-family:'Liberation Serif',serif;font-size:16px" fill="#000">15</text>
<path d="M222.62,532.0 L222.62,536.5" stroke="#262626" stroke-width="1.7"/>
<text x="222.62" y="557.00" text-anchor="middle" style="font-family:'Liberation Serif',serif;font-size:16px" fill="#000">20</text>
<path d="M257.27,532.0 L257.27,536.5" stroke="#262626" stroke-width="1.7"/>
<text x="257.27" y="557.00" text-anchor="middle" style="font-family:'Liberation Serif',serif;font-size:16px" fill="#000">25</text>
<path d="M291.92,532.0 L291.92,536.5" stroke="#262626" stroke-width="1.7"/>
<text x="291.92" y="557.00" text-anchor="middle" style="font-family:'Liberation Serif',serif;font-size:16px" fill="#000">30</text>
<path d="M326.58,532.0 L326.58,536.5" stroke="#262626" stroke-width="1.7"/>
<text x="326.58" y="557.00" text-anchor="middle" style="font-family:'Liberation Serif',serif;font-size:16px" fill="#000">35</text>
<path d="M361.23,532.0 L361.23,536.5" stroke="#262626" stroke-width="1.7"/>
<text x="361.23" y="557.00" text-anchor="middle" style="font-family:'Liberation Serif',serif;font-size:16px" fill="#000">40</text>
<path d="M395.88,532.0 L395.88,536.5" stroke="#262626" stroke-width="1.7"/>
<text x="395.88" y="557.00" text-anchor="middle" style="font-family:'Liberation Serif',serif;font-size:16px" fill="#000">45</text>
<path d="M430.54,532.0 L430.54,536.5" stroke="#262626" stroke-width="1.7"/>
<text x="430.54" y="557.00" text-anchor="middle" style="font-family:'Liberation Serif',serif;font-size:16px" fill="#000">50</text>
<path d="M465.19,532.0 L465.19,536.5" stroke="#262626" stroke-width="1.7"/>
<text x="465.19" y="557.00" text-anchor="middle" style="font-family:'Liberation Serif',serif;font-size:16px" fill="#000">55</text>
<path d="M499.85,532.0 L499.85,536.5" stroke="#262626" stroke-width="1.7"/>
<text x="499.85" y="557.00" text-anchor="middle" style="font-family:'Liberation Serif',serif;font-size:16px" fill="#000">60</text>
<path d="M534.50,532.0 L534.50,536.5" stroke="#262626" stroke-width="1.7"/>
<text x="534.50" y="557.00" text-anchor="middle" style="font-family:'Liberation Serif',serif;font-size:16px" fill="#000">65</text>
<text x="309.7" y="577.80" text-anchor="middle" style="font-family:'Liberation Serif',serif;font-size:16px" fill="#000">Time step (&#916;t=6h)</text>
<text transform="translate(17.8,429.90) rotate(-90)" x="0" y="0" text-anchor="middle" style="font-family:'Liberation Serif',serif;font-size:16px" fill="#000">Flow dischar (m<tspan baseline-shift="super" style="font-size:10.5px">3</tspan>/s)</text>
<text x="279.9" y="598.00" text-anchor="middle" style="font-family:'Liberation Serif',serif;font-size:12.8px" fill="#000">(<tspan font-weight="bold">b</tspan>) 100-year design flood</text>
<path d="M388.5,319.60 L424.2,319.60" stroke="#1b8fd5" stroke-width="2.2"/>
<circle cx="406.05" cy="319.60" r="2.5" fill="#1b8fd5"/>
<text x="428.3" y="324.80" style="font-family:'Liberation Serif',serif;font-size:16.2px" fill="#000">Original DFH</text>
<path d="M388.5,337.00 L424.2,337.00" stroke="#a3a3a3" stroke-width="2.1" stroke-dasharray="7.5 6.5"/>
<text x="428.3" y="342.20" style="font-family:'Liberation Serif',serif;font-size:16.2px" fill="#000">MLFRC</text>
<path d="M388.5,354.40 L424.2,354.40" stroke="#000000" stroke-width="2.1"/>
<text x="428.3" y="359.60" style="font-family:'Liberation Serif',serif;font-size:16.2px" fill="#000">FRC-POD</text>
<path d="M388.5,371.80 L424.2,371.80" stroke="#00b050" stroke-width="2.1" stroke-dasharray="2 2"/>
<text x="428.3" y="377.00" style="font-family:'Liberation Serif',serif;font-size:16.2px" fill="#000">TYFC-1998</text>
</svg>
</body></html>
